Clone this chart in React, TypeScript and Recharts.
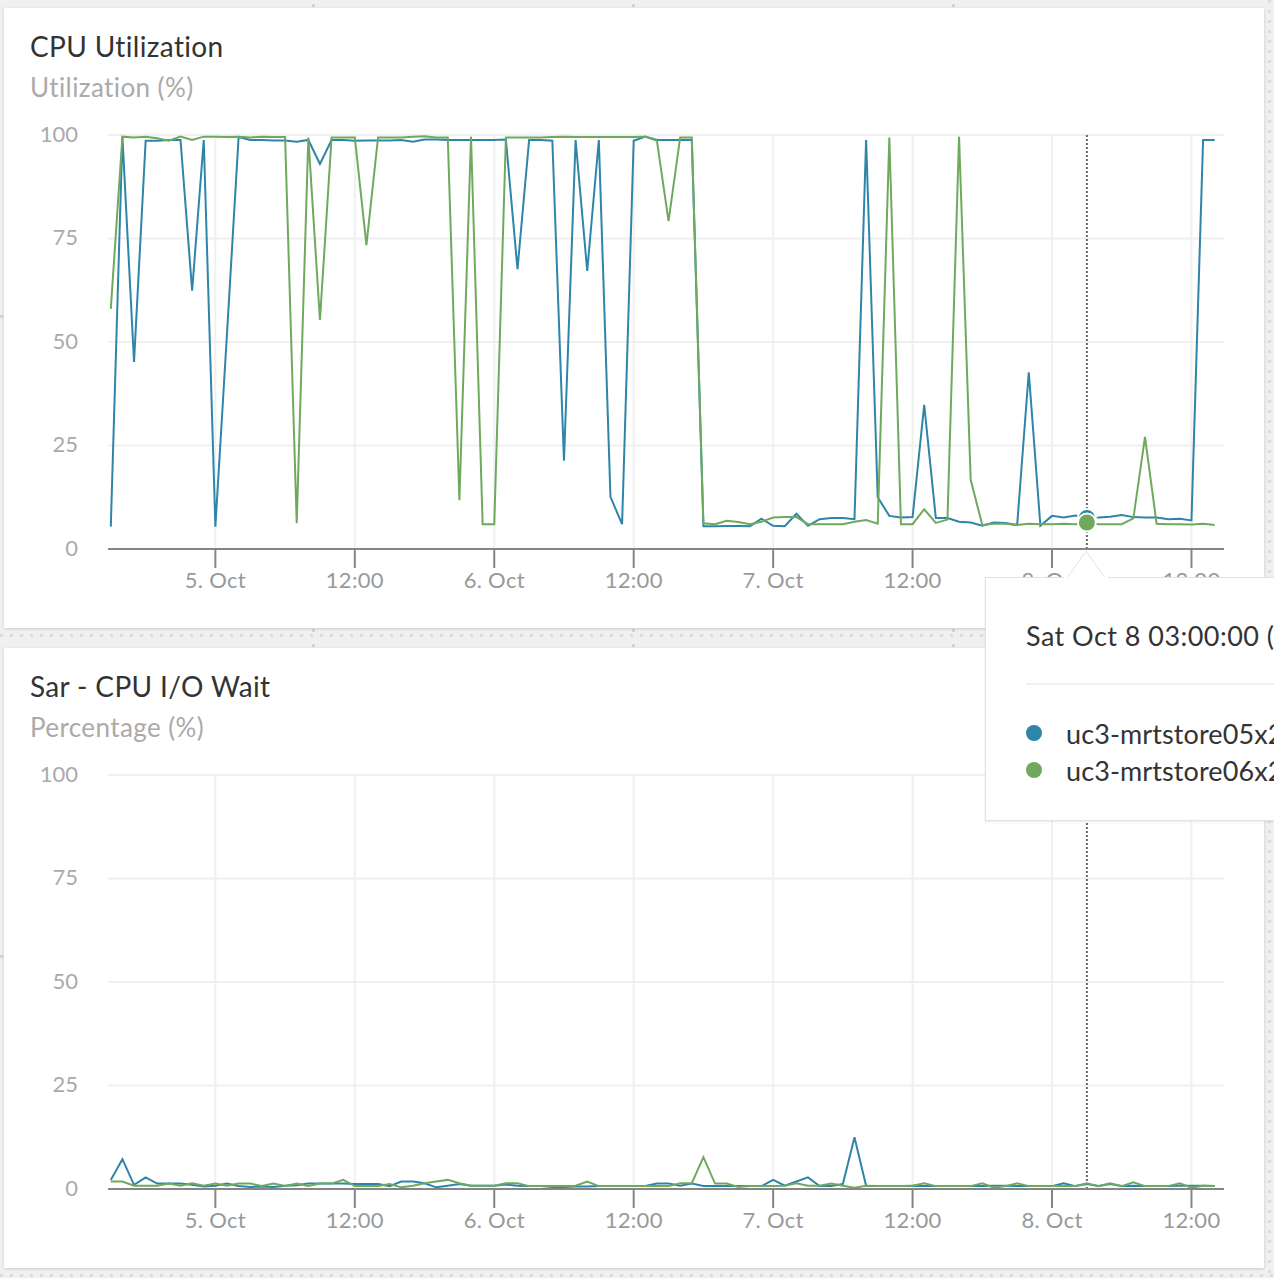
import { CartesianGrid, Line, LineChart, ReferenceLine, XAxis, YAxis } from "recharts";

const hours = Array.from({ length: 96 }, (_, i) => i);

const cpuStore05 = [
  5.4, 99.6, 45.2, 98.6, 98.6, 98.8, 98.8, 62.4, 98.8, 5.4, 52, 99.5,
  98.8, 98.8, 98.7, 98.7, 98.4, 98.8, 93, 98.8, 98.8, 98.6, 98.7, 98.7,
  98.7, 98.8, 98.4, 98.9, 98.9, 98.8, 98.8, 98.8, 98.8, 98.8, 98.9, 67.6,
  98.8, 98.8, 98.6, 21.3, 98.8, 67.2, 98.8, 12.6, 6, 98.6, 99.6, 98.8,
  98.8, 98.8, 98.8, 5.5, 5.5, 5.55, 5.55, 5.5, 7.3, 5.6, 5.5, 8.5,
  5.6, 7.2, 7.5, 7.5, 7.2, 98.8, 12.5, 8, 7.6, 7.7, 34.8, 7.5,
  7.5, 6.6, 6.4, 5.6, 6.4, 6.3, 5.8, 42.7, 5.6, 8, 7.6, 8.1,
  7.5, 7.6, 7.8, 8.2, 7.7, 7.6, 7.6, 7.2, 7.3, 6.9, 98.8, 98.8,
];
const cpuStore06 = [
  58, 99.6, 99.4, 99.6, 99.2, 98.6, 99.6, 98.8, 99.6, 99.6, 99.5, 99.6,
  99.4, 99.6, 99.5, 99.5, 6.2, 99.4, 55.3, 99.4, 99.4, 99.4, 73.4, 99.4,
  99.4, 99.4, 99.6, 99.7, 99.4, 99.4, 11.8, 99.6, 6, 6, 99.4, 99.4,
  99.4, 99.4, 99.5, 99.6, 99.5, 99.5, 99.5, 99.5, 99.5, 99.5, 99.6, 98.6,
  79.2, 99.4, 99.4, 6.2, 6, 6.8, 6.5, 6, 6.6, 7.6, 7.7, 7.7,
  6, 6, 6, 6, 6.6, 7, 6.1, 99.4, 6, 6, 9.6, 6.3,
  7.1, 99.6, 16.7, 5.8, 6.1, 6.1, 5.8, 6.1, 6, 6, 6.1, 6,
  6.4, 6, 6, 6, 7.4, 27.1, 6.1, 6, 6, 5.9, 6.1, 5.8,
];

const waitStore05 = [
  2.2, 7.2, 1, 2.8, 1.3, 1.3, 1.3, 1, 0.6, 0.8, 1.3, 0.7,
  0.5, 0.6, 0.5, 0.8, 0.9, 1.3, 1.3, 1.3, 1.3, 1.2, 1.2, 1.2,
  0.7, 1.8, 1.8, 1.4, 0.4, 0.8, 1.2, 0.8, 0.8, 0.8, 1.1, 0.8,
  0.7, 0.7, 0.5, 0.5, 0.6, 0.6, 0.7, 0.7, 0.7, 0.7, 0.7, 1.3,
  1.3, 0.8, 1.3, 0.7, 0.7, 0.7, 0.7, 0.7, 0.7, 2.2, 0.8, 1.8,
  2.8, 0.7, 0.7, 1.2, 12.5, 0.8, 0.7, 0.7, 0.7, 0.8, 0.7, 0.7,
  0.7, 0.7, 0.7, 0.7, 0.8, 0.8, 0.7, 0.7, 0.7, 0.7, 1.4, 0.7,
  1.2, 0.7, 1.2, 0.7, 0.8, 0.7, 0.7, 0.7, 0.8, 0.8, 0.8, 0.7,
];
const waitStore06 = [
  1.8, 1.8, 0.8, 0.8, 0.8, 1.3, 0.8, 1.4, 0.8, 1.3, 0.8, 1.3,
  1.3, 0.7, 1.3, 0.7, 1.3, 0.7, 1.3, 1.3, 2.2, 0.7, 0.7, 0.7,
  1.2, 0.4, 0.8, 1.4, 1.8, 2.2, 1.4, 0.8, 0.8, 0.8, 1.4, 1.4,
  0.7, 0.7, 0.7, 0.7, 0.8, 1.8, 0.7, 0.7, 0.7, 0.7, 0.7, 0.7,
  0.7, 1.4, 1.4, 7.7, 1.3, 1.3, 0.5, 0.7, 0.7, 0.7, 0.8, 1.4,
  0.8, 0.8, 1.3, 0.8, 0.3, 0.8, 0.7, 0.7, 0.7, 0.8, 1.4, 0.7,
  0.7, 0.7, 0.7, 1.4, 0.3, 0.7, 1.4, 0.7, 0.7, 0.7, 0.7, 0.7,
  1.4, 0.7, 1.4, 0.7, 1.6, 0.7, 0.7, 0.7, 1.4, 0.3, 0.8, 0.7,
];

const xTicks = [9, 21, 33, 45, 57, 69, 81, 93];
const xTickLabels = ["5. Oct", "12:00", "6. Oct", "12:00", "7. Oct", "12:00", "8. Oct", "12:00"];
const yTicks = [0, 25, 50, 75, 100];
const seriesNames = ["uc3-mrtstore05x2", "uc3-mrtstore06x2"];
const seriesColors = ["#2e85aa", "#6fa95e"];
const hoverIndex = 84;
const hoverLabel = "Sat Oct 8 03:00:00 (";

const font = "Lato, 'Open Sans', sans-serif";

function rows(a: number[], b: number[]) {
  return hours.map((h, i) => ({ h, a: a[i], b: b[i] }));
}

function hoverDot(color: string) {
  return (props: any) => {
    if (props.index !== hoverIndex) return <g key={props.index} />;
    return (
      <circle
        key={props.index}
        cx={props.cx}
        cy={props.cy}
        r={9}
        fill={color}
        stroke="#fff"
        strokeWidth={2}
      />
    );
  };
}

function Panel({ top, title, unit, a, b, showDots }: any) {
  return (
    <div
      style={{
        position: "absolute",
        left: 4,
        top,
        width: 1260,
        height: 620,
        background: "#fff",
        boxShadow: "0 1px 3px rgba(0,0,0,0.16)",
      }}
    >
      <div style={{ position: "absolute", left: 26, top: 20, fontSize: 28, letterSpacing: 0.35, color: "#333", lineHeight: "36px" }}>
        {title}
      </div>
      <div style={{ position: "absolute", left: 26, top: 61, fontSize: 26, letterSpacing: 0.4, color: "#aaa", lineHeight: "36px" }}>
        {unit}
      </div>
      <div style={{ position: "absolute", left: -4, top: 0 }}>
        <LineChart
          width={1264}
          height={620}
          data={rows(a, b)}
          margin={{ top: 127, right: 40, left: 0, bottom: 27 }}
        >
          <CartesianGrid stroke="#f0f0f0" strokeWidth={2} vertical={false} />
          {xTicks.map((t) => (
            <ReferenceLine key={t} x={t} stroke="#f0f0f0" strokeWidth={2} />
          ))}
          <XAxis
            dataKey="h"
            type="number"
            domain={[-0.24, 95.8]}
            ticks={xTicks}
            tickFormatter={(v) => xTickLabels[xTicks.indexOf(v)]}
            stroke="#858585"
            strokeWidth={2}
            tickSize={19}
            tickMargin={4}
            height={52}
            tick={{ fill: "#999", fontSize: 22, letterSpacing: 0.3, fontFamily: font }}
          />
          <YAxis
            domain={[0, 100]}
            ticks={yTicks}
            axisLine={false}
            tickLine={false}
            tickSize={0}
            tickMargin={30}
            width={108}
            tick={{ fill: "#aaa", fontSize: 22, fontFamily: font, dy: -1 }}
          />
          <ReferenceLine x={hoverIndex} stroke="#666" strokeWidth={2} strokeDasharray="2 2" />
          <Line
            dataKey="a"
            stroke={seriesColors[0]}
            strokeWidth={2}
            dot={showDots ? hoverDot(seriesColors[0]) : false}
            activeDot={false}
            isAnimationActive={false}
          />
          <Line
            dataKey="b"
            stroke={seriesColors[1]}
            strokeWidth={2}
            dot={showDots ? hoverDot(seriesColors[1]) : false}
            activeDot={false}
            isAnimationActive={false}
          />
        </LineChart>
      </div>
    </div>
  );
}

function HoverCard() {
  return (
    <>
      <div
        style={{
          position: "absolute",
          left: 985,
          top: 577,
          width: 300,
          height: 244,
          background: "#fff",
          border: "1px solid #e2e2e2",
          boxSizing: "border-box",
          boxShadow: "0 1px 2px rgba(0,0,0,0.08)",
        }}
      >
        <div style={{ position: "absolute", left: 40, top: 41, fontSize: 27, letterSpacing: 0.45, color: "#333", lineHeight: "34px", whiteSpace: "nowrap" }}>
          {hoverLabel}
        </div>
        <div style={{ position: "absolute", left: 40, top: 105, width: 260, height: 2, background: "#f0f0f0" }} />
        {seriesNames.map((name, i) => (
          <div key={name}>
            <div
              style={{
                position: "absolute",
                left: 40,
                top: 147 + i * 37,
                width: 16,
                height: 16,
                borderRadius: "50%",
                background: seriesColors[i],
              }}
            />
            <div style={{ position: "absolute", left: 80, top: 139 + i * 37, fontSize: 27, letterSpacing: 0.1, color: "#333", lineHeight: "34px", whiteSpace: "nowrap" }}>
              {name}
            </div>
          </div>
        ))}
      </div>
      <svg style={{ position: "absolute", left: 1064, top: 549 }} width={44} height={30}>
        <polygon points="3,29 22,2 41,29" fill="#fff" stroke="#e2e2e2" />
        <rect x={0} y={28} width={44} height={2} fill="#fff" />
      </svg>
    </>
  );
}

const dotRow = (left: number, top: number, width: number) => (
  <div
    style={{
      position: "absolute",
      left,
      top,
      width,
      height: 3,
      backgroundImage: "linear-gradient(90deg, #dcdcdc 3px, transparent 3px)",
      backgroundSize: "10px 3px",
    }}
  />
);

const gridMarks = [
  [312, 4], [632, 4], [952, 4], [0, 315], [0, 955],
  [312, 629], [632, 629], [952, 629], [312, 644], [632, 644], [952, 644],
];

export default function App() {
  return (
    <div
      style={{
        position: "absolute",
        left: 0,
        top: 0,
        width: 1274,
        height: 1278,
        overflow: "hidden",
        background: "#f0f0f0",
        fontFamily: font,
        fontVariantLigatures: "none",
      }}
    >
      {dotRow(0, 634, 1274)}
      {dotRow(0, 1274, 1274)}
      <div
        style={{
          position: "absolute",
          left: 1268,
          top: 0,
          width: 3,
          height: 1278,
          backgroundImage: "linear-gradient(180deg, #dcdcdc 3px, transparent 3px)",
          backgroundSize: "3px 10px",
        }}
      />
      {gridMarks.map(([x, y]) => (
        <div key={`${x}-${y}`} style={{ position: "absolute", left: x, top: y, width: 3, height: 3, background: "#d4d4d4" }} />
      ))}
      <Panel top={8} title="CPU Utilization" unit="Utilization (%)" a={cpuStore05} b={cpuStore06} showDots />
      <Panel top={648} title="Sar - CPU I/O Wait" unit="Percentage (%)" a={waitStore05} b={waitStore06} />
      <HoverCard />
    </div>
  );
}
